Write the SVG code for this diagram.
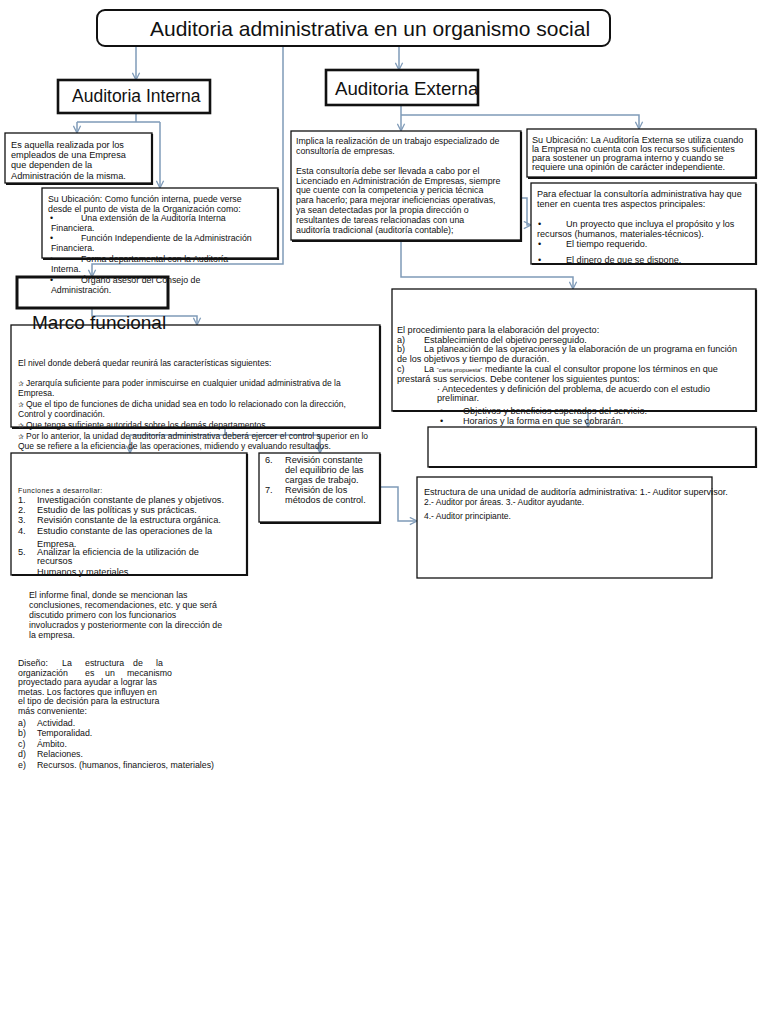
<svg xmlns="http://www.w3.org/2000/svg" width="768" height="1024" viewBox="0 0 768 1024">
<defs>
<marker id="ar" viewBox="0 0 10 10" refX="9" refY="5" markerWidth="9" markerHeight="9" markerUnits="userSpaceOnUse" orient="auto">
<path d="M1,1 L9,5 L1,9" fill="none" stroke="#7f9bb8" stroke-width="1.4"/>
</marker>
<style>
.t{font-family:"Liberation Sans",Arial,sans-serif;fill:#111}
.s{font-size:8.8px}
.r{font-size:9.1px}
.k{font-size:8.5px}
.m{font-size:9.2px}
.box{fill:#fff;stroke:#111;stroke-width:1.3}
.thick{fill:#fff;stroke:#111;stroke-width:2.6}
.sh{fill:none;stroke:#111;stroke-width:2.2}
.c{fill:none;stroke:#7f9bb8;stroke-width:1.5}
.st{font-family:"DejaVu Sans",sans-serif;font-size:7px;fill:#444}
</style>
</defs>
<rect width="768" height="1024" fill="#fff"/>

<g id="connectors">
<path class="c" d="M136,46 V80" marker-end="url(#ar)"/>
<path class="c" d="M399,46 V70" marker-end="url(#ar)"/>
<path class="c" d="M283,46 V264 H92 V277" marker-end="url(#ar)"/>
<path class="c" d="M136,113 V122 M77,122 H160"/>
<path class="c" d="M77,122 V133" marker-end="url(#ar)"/>
<path class="c" d="M160,122 V188" marker-end="url(#ar)"/>
<path class="c" d="M401,105 V131" marker-end="url(#ar)"/>
<path class="c" d="M401,115 H639 V129" marker-end="url(#ar)"/>
<path class="c" d="M521,198 H527 V225 H531" marker-end="url(#ar)"/>
<path class="c" d="M401,240 V277 H573 V289" marker-end="url(#ar)"/>
<path class="c" d="M588,411 V427" marker-end="url(#ar)"/>
<path class="c" d="M92,308 V316 H197 V325" marker-end="url(#ar)"/>
<path class="c" d="M225,427 V435 M130,435 H320"/>
<path class="c" d="M130,435 V453" marker-end="url(#ar)"/>
<path class="c" d="M320,435 V453" marker-end="url(#ar)"/>
<path class="c" d="M380,487 H398 V521 H417" marker-end="url(#ar)"/>
</g>

<g id="title">
<rect x="97" y="10" width="513" height="36" rx="8" fill="#fff" stroke="#111" stroke-width="2"/>
<text class="t" x="150" y="36" font-size="21">Auditoria administrativa en un organismo social</text>
</g>

<g id="interna">
<rect class="thick" x="58" y="80" width="152" height="33"/>
<text class="t" x="72" y="102" font-size="17.5">Auditoria Interna</text>
</g>

<g id="externa">
<rect class="thick" x="326" y="70" width="152" height="35"/>
<text class="t" x="335" y="95" font-size="18.7">Auditoria Externa</text>
</g>

<g id="es-aquella">
<rect class="box" x="5" y="133" width="147" height="50"/>
<path class="sh" d="M152,134 V184 H6"/>
<text class="t m" x="11" y="147.5">Es aquella realizada por los</text>
<text class="t m" x="11" y="158">empleados de una Empresa</text>
<text class="t m" x="11" y="168">que dependen de la</text>
<text class="t m" x="11" y="178.5">Administración de la misma.</text>
</g>

<g id="su-ubicacion-interna">
<rect class="box" x="42" y="188" width="236" height="70"/>
<path class="sh" d="M278,189 V259 H43"/>
</g>

<g id="organo-box">
<rect x="17" y="277" width="151" height="31" fill="#fff" stroke="#111" stroke-width="3"/>
</g>

<g id="su-ubicacion-interna-text">
<text class="t s" x="48" y="202">Su Ubicación: Como función interna, puede verse</text>
<text class="t s" x="48" y="212">desde el punto de vista de la Organización como:</text>
<text class="t s" x="50" y="221">•</text><text class="t s" x="81" y="221">Una extensión de la Auditoría Interna</text>
<text class="t s" x="51" y="231">Financiera.</text>
<text class="t s" x="50" y="241">•</text><text class="t s" x="81" y="241">Función Independiente de la Administración</text>
<text class="t s" x="51" y="251">Financiera.</text>
<text class="t s" x="50" y="262">•</text><text class="t s" x="81" y="262">Forma departamental con la Auditoría</text>
<text class="t s" x="51" y="272">Interna.</text>
<text class="t s" x="50" y="283">•</text><text class="t s" x="81" y="283">Órgano asesor del Consejo de</text>
<text class="t s" x="51" y="293">Administración.</text>
</g>

<g id="implica">
<rect class="box" x="291" y="131" width="230" height="109"/>
<path class="sh" d="M521,132 V241 H292"/>
<text class="t s" x="296" y="144">Implica la realización de un trabajo especializado de</text>
<text class="t s" x="296" y="154">consultoría de empresas.</text>
<text class="t s" x="296" y="174">Esta consultoría debe ser llevada a cabo por el</text>
<text class="t s" x="296" y="184">Licenciado en Administración de Empresas, siempre</text>
<text class="t s" x="296" y="193">que cuente con la competencia y pericia técnica</text>
<text class="t s" x="296" y="203">para hacerlo; para mejorar ineficiencias operativas,</text>
<text class="t s" x="296" y="213">ya sean detectadas por la propia dirección o</text>
<text class="t s" x="296" y="223">resultantes de tareas relacionadas con una</text>
<text class="t s" x="296" y="233">auditoría tradicional (auditoría contable);</text>
</g>

<g id="su-ubicacion-externa">
<rect class="box" x="527" y="129" width="229" height="48"/>
<path class="sh" d="M756,130 V178 H528"/>
<text class="t r" x="532" y="143">Su Ubicación: La Auditoría Externa se utiliza cuando</text>
<text class="t r" x="532" y="152">la Empresa no cuenta con los recursos suficientes</text>
<text class="t r" x="532" y="161">para sostener un programa interno y cuando se</text>
<text class="t r" x="532" y="170">requiere una opinión de carácter independiente.</text>
</g>

<g id="para-efectuar">
<rect class="box" x="531" y="183" width="225" height="81"/>
<path class="sh" d="M756,184 V264 H532"/>
<text class="t r" x="537" y="197">Para efectuar la consultoría administrativa hay que</text>
<text class="t r" x="537" y="207">tener en cuenta tres aspectos principales:</text>
<text class="t r" x="538" y="227">•</text><text class="t r" x="566" y="227">Un proyecto que incluya el propósito y los</text>
<text class="t r" x="537" y="237">recursos (humanos, materiales-técnicos).</text>
<text class="t r" x="538" y="247">•</text><text class="t r" x="566" y="247">El tiempo requerido.</text>
<text class="t r" x="538" y="263">•</text><text class="t r" x="566" y="263">El dinero de que se dispone.</text>
</g>

<g id="procedimiento">
<rect class="box" x="392" y="289" width="364" height="122"/>
<path class="sh" d="M756,290 V411 H393"/>
</g>

<g id="empty-box">
<rect class="box" x="428" y="427" width="328" height="40"/>
<path class="sh" d="M756,428 V467 H429"/>
</g>

<g id="procedimiento-text">
<text class="t r" x="397" y="333">El procedimiento para la elaboración del proyecto:</text>
<text class="t r" x="397" y="343">a)</text><text class="t r" x="424" y="343">Establecimiento del objetivo perseguido.</text>
<text class="t r" x="397" y="352">b)</text><text class="t r" x="424" y="352">La planeación de las operaciones y la elaboración de un programa en función</text>
<text class="t r" x="397" y="362">de los objetivos y tiempo de duración.</text>
<text class="t r" x="397" y="372">c)</text><text class="t r" x="424" y="372">La <tspan font-size="6px">“carta propuesta”</tspan> mediante la cual el consultor propone los términos en que</text>
<text class="t r" x="397" y="382">prestará sus servicios. Debe contener los siguientes puntos:</text>
<text class="t r" x="437" y="392">· Antecedentes y definición del problema, de acuerdo con el estudio</text>
<text class="t r" x="437" y="401">preliminar.</text>
<text class="t r" x="440" y="414">•</text><text class="t r" x="463" y="414">Objetivos y beneficios esperados del servicio.</text>
<text class="t r" x="440" y="424">•</text><text class="t r" x="463" y="424">Horarios y la forma en que se cobrarán.</text>
</g>

<g id="estructura">
<rect class="box" x="417" y="477" width="295" height="101"/>
<text class="t r" x="424" y="495">Estructura de una unidad de auditoría administrativa: 1.- Auditor supervisor.</text>
<text class="t" x="424" y="505" font-size="8.5">2.- Auditor por áreas. 3.- Auditor ayudante.</text>
<text class="t" x="424" y="519" font-size="8.5">4.- Auditor principiante.</text>
</g>

<g id="marco">
<rect class="box" x="11" y="325" width="369" height="102"/>
<path class="sh" d="M380,326 V428 H12"/>
<text class="t" x="32" y="329" font-size="19">Marco funcional</text>
<text class="t k" x="18" y="366">El nivel donde deberá quedar reunirá las características siguientes:</text>
<text class="st" x="18" y="386">✰</text><text class="t k" x="26" y="386">Jerarquía suficiente para poder inmiscuirse en cualquier unidad administrativa de la</text>
<text class="t k" x="18" y="396">Empresa.</text>
<text class="st" x="18" y="407">✰</text><text class="t k" x="26" y="407">Que el tipo de funciones de dicha unidad sea en todo lo relacionado con la dirección,</text>
<text class="t k" x="18" y="417">Control y coordinación.</text>
<text class="st" x="18" y="428">✰</text><text class="t k" x="26" y="428">Que tenga suficiente autoridad sobre los demás departamentos.</text>
<text class="st" x="18" y="439">✰</text><text class="t k" x="26" y="439">Por lo anterior, la unidad de auditoría administrativa deberá ejercer el control superior en lo</text>
<text class="t k" x="18" y="449">Que se refiere a la eficiencia de las operaciones, midiendo y evaluando resultados.</text>
</g>

<g id="funciones">
<rect class="box" x="11" y="453" width="236" height="122"/>
<path class="sh" d="M247,454 V575 H12"/>
<text class="t" x="18" y="493" font-size="7" letter-spacing="0.4" fill="#333">Funciones a desarrollar:</text>
<text class="t m" x="18" y="503">1.</text><text class="t m" x="37" y="503">Investigación constante de planes y objetivos.</text>
<text class="t m" x="18" y="513">2.</text><text class="t m" x="37" y="513">Estudio de las políticas y sus prácticas.</text>
<text class="t m" x="18" y="523">3.</text><text class="t m" x="37" y="523">Revisión constante de la estructura orgánica.</text>
<text class="t m" x="18" y="534">4.</text><text class="t m" x="37" y="534">Estudio constante de las operaciones de la</text>
<text class="t m" x="37" y="547">Empresa.</text>
<text class="t m" x="18" y="555">5.</text><text class="t m" x="37" y="555">Analizar la eficiencia de la utilización de</text>
<text class="t m" x="37" y="564">recursos</text>
<text class="t m" x="37" y="575">Humanos y materiales.</text>
</g>

<g id="revision">
<rect class="box" x="259" y="453" width="121" height="69"/>
<path class="sh" d="M380,454 V523 H260"/>
<text class="t m" x="265" y="463">6.</text><text class="t m" x="285" y="463">Revisión constante</text>
<text class="t m" x="285" y="473">del equilibrio de las</text>
<text class="t m" x="285" y="483">cargas de trabajo.</text>
<text class="t m" x="265" y="493">7.</text><text class="t m" x="285" y="493">Revisión de los</text>
<text class="t m" x="285" y="503">métodos de control.</text>
</g>

<g id="informe">
<text class="t s" x="29" y="598">El informe final, donde se mencionan las</text>
<text class="t s" x="29" y="608">conclusiones, recomendaciones, etc. y que será</text>
<text class="t s" x="29" y="618">discutido primero con los funcionarios</text>
<text class="t s" x="29" y="628">involucrados y posteriormente con la dirección de</text>
<text class="t s" x="29" y="638">la empresa.</text>
</g>

<g id="diseno">
<text class="t s" y="666"><tspan x="18">Diseño:</tspan><tspan x="62">La</tspan><tspan x="85">estructura</tspan><tspan x="133">de</tspan><tspan x="156">la</tspan></text>
<text class="t s" y="676"><tspan x="18">organización</tspan><tspan x="85">es</tspan><tspan x="105">un</tspan><tspan x="127">mecanismo</tspan></text>
<text class="t s" x="18" y="685">proyectado para ayudar a lograr las</text>
<text class="t s" x="18" y="695">metas. Los factores que influyen en</text>
<text class="t s" x="18" y="704">el tipo de decisión para la estructura</text>
<text class="t s" x="18" y="714">más conveniente:</text>
<text class="t s" x="18" y="726">a)</text><text class="t s" x="37" y="726">Actividad.</text>
<text class="t s" x="18" y="736">b)</text><text class="t s" x="37" y="736">Temporalidad.</text>
<text class="t s" x="18" y="747">c)</text><text class="t s" x="37" y="747">Ámbito.</text>
<text class="t s" x="18" y="757">d)</text><text class="t s" x="37" y="757">Relaciones.</text>
<text class="t s" x="18" y="768">e)</text><text class="t s" x="37" y="768">Recursos. (humanos, financieros, materiales)</text>
</g>
</svg>
